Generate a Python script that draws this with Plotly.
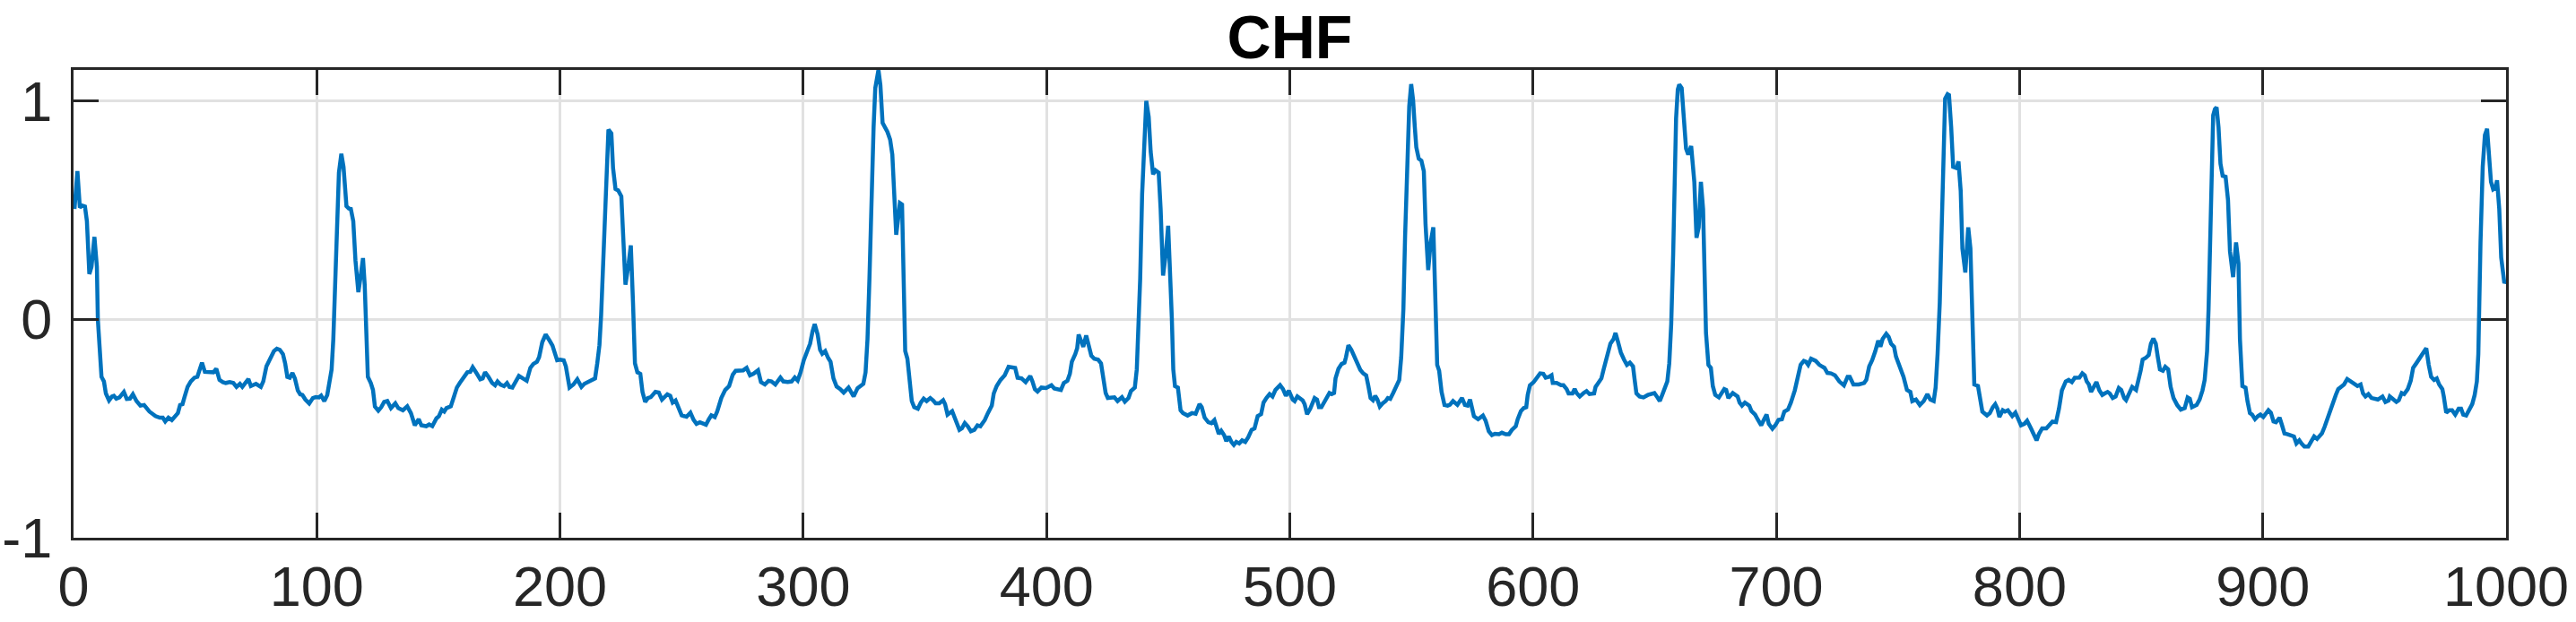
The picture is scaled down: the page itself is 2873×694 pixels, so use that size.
import plotly.graph_objects as go

# ---- data (sample index, amplitude) ----
sample_x = [
    0.4, 1.6, 2.6, 3.5, 4.7, 5.5, 6.5, 7.4, 8.6, 9.6, 10.0, 10.5, 11.5, 12.5, 13.3, 14.6, 15.8, 16.6, 17.6, 18.9,
    20.7, 21.9, 23.2, 24.4, 25.9, 27.5, 29.0, 31.2, 33.7, 35.5, 36.7, 37.7, 39.0, 40.4, 41.9, 42.9, 43.8, 44.8, 45.7, 46.9,
    48.2, 49.7, 50.9, 52.8, 54.0, 55.2, 56.5, 57.5, 58.7, 60.0, 61.4, 62.6, 64.2, 65.7, 67.0, 68.4, 69.4, 71.9, 72.9, 75.0,
    77.0, 78.0, 79.3, 80.5, 82.4, 83.6, 84.8, 86.1, 87.0, 87.9, 88.9, 90.0, 91.0, 92.2, 93.2, 94.1, 95.3, 96.9, 98.4, 99.6,
    100.9, 101.8, 103.1, 104.3, 105.3, 106.1, 106.8, 107.7, 108.6, 109.1, 110.1, 111.0, 112.2, 113.2, 114.0, 115.0, 115.9, 117.1, 117.9, 119.0,
    119.7, 120.6, 121.0, 122.2, 123.1, 123.9, 125.3, 126.5, 127.7, 129.0, 130.5, 132.3, 133.5, 135.4, 137.2, 138.7, 140.3, 141.9, 143.0, 145.0,
    146.2, 147.5, 149.2, 150.2, 151.4, 152.4, 153.3, 155.1, 156.4, 157.6, 158.8, 160.3, 161.9, 163.1, 164.1, 165.6,
    167.2, 168.2, 169.2, 170.6, 172.1, 173.3, 174.3, 175.5, 177.0, 178.2, 179.2, 180.4, 181.6, 183.1, 184.7, 186.3, 187.8, 189.0,
    190.5, 191.4, 192.7, 194.1, 195.7, 196.9, 197.8, 198.8, 200.0, 201.5, 202.4, 203.9, 205.5, 207.1, 208.8, 210.0, 212.0, 213.2,
    214.4, 215.3, 216.2, 216.9, 217.7, 218.6, 219.3, 219.9, 221.1, 221.8, 222.8, 223.9, 225.2, 226.0, 226.9, 228.2, 229.1, 230.0,
    230.8, 231.8, 233.0, 233.9, 235.0, 236.1, 237.3, 239.2, 240.6, 241.9, 244.1, 245.3, 246.3, 247.5, 249.0, 250.0, 252.0, 253.6,
    254.9, 256.1, 257.5, 259.0, 260.0, 261.2, 262.2, 263.6, 264.6, 266.3, 267.9, 269.5, 271.0, 272.2, 273.4, 275.3, 276.7, 278.1,
    279.5, 281.4, 282.6, 284.2, 285.7, 286.9, 288.5, 290.6, 291.8, 293.6, 295.2, 296.5, 297.7, 298.9, 300.2, 301.4, 302.8, 303.8,
    304.7, 305.9, 306.9, 307.8, 309.0, 310.2, 311.2, 312.4, 313.7, 315.2, 316.6, 318.6, 320.7, 322.3, 323.5, 324.7, 325.6, 326.4,
    327.2, 328.0, 328.9, 329.6, 330.9, 331.7, 332.6,
    334.6, 335.7, 336.6, 337.5, 338.2, 339.1, 339.7, 340.6, 341.2, 341.9, 342.8, 343.6, 344.6, 345.6, 347.1, 348.3, 349.5, 350.7,
    352.2, 353.4, 354.4, 355.9, 357.5, 358.3, 359.3, 361.2, 362.6, 364.2, 365.2, 366.4, 367.6, 368.9, 370.3, 371.6, 372.8, 374.6,
    375.9, 377.5, 378.3, 379.5, 381.1, 382.8, 384.4, 385.7, 387.1, 388.1, 389.7, 391.4, 393.3, 394.2, 395.2, 396.3, 397.9, 399.8,
    402.0, 403.2, 404.7, 405.9, 407.1, 408.6, 409.6, 410.4, 411.8, 412.6, 413.2, 414.2, 415.1, 416.3, 417.5, 418.4, 419.6, 421.2,
    422.4, 423.3, 424.3, 425.2, 426.7, 427.9, 429.2, 431.0, 432.2, 433.7, 434.7, 436.3, 437.1, 437.7, 438.5, 439.3, 440.2, 441.0,
    442.0, 442.8, 443.8, 444.8, 446.1, 446.9, 447.9, 449.0, 450.0, 450.7, 451.5, 452.1, 452.8, 454.0, 455.1, 456.1, 458.0, 459.8,
    461.3, 462.9, 463.8, 465.0, 466.5, 467.8, 469.0, 469.9, 470.8, 471.8, 473.0, 473.9, 474.9, 476.0, 477.0, 478.0, 479.2, 480.4,
    481.7, 482.9, 484.3, 485.5, 486.8, 488.2, 489.2, 490.4, 491.7, 492.9, 494.1, 496.0, 497.2, 498.4, 499.6,
    501.2, 502.0, 503.1, 504.1, 505.3, 506.1, 507.1, 508.4, 510.2, 511.2, 512.0, 513.0, 514.5, 515.5, 516.3, 517.2, 518.2, 518.8,
    520.0, 521.3, 522.5, 523.1, 524.1, 525.3, 526.5, 527.8, 529.0, 530.2, 531.4, 532.3, 533.2, 534.2, 535.1, 536.0, 537.0, 538.1,
    539.4, 540.3, 541.3, 542.5, 543.7, 545.0, 545.8, 546.7, 547.4, 548.3, 549.1, 549.9, 550.7, 551.4, 552.0, 553.0, 554.1, 555.1,
    555.8, 556.9, 557.9, 559.0, 559.7, 560.6, 561.4, 562.4, 563.6, 564.9, 565.8, 567.1, 568.9, 570.8, 572.0, 573.1, 574.1, 575.7,
    577.4, 579.4, 580.5, 581.8, 583.1, 584.3, 586.0, 587.2, 588.8, 590.1, 591.3, 592.9, 593.7, 595.0, 596.2, 597.2, 597.8, 598.7,
    600.2, 601.5, 602.9, 604.2, 605.2, 606.6, 607.6, 608.1, 609.7, 611.5, 612.5, 613.8, 614.6, 616.2, 617.1, 617.9, 619.2, 620.8,
    622.0, 623.2, 625.1, 625.7, 626.9, 628.1, 629.0, 630.0, 631.0, 631.8, 633.1, 633.9, 634.9, 636.1, 637.4, 638.6, 639.8, 641.1,
    641.7, 642.5, 643.8, 645.4, 647.2, 648.7, 649.9, 650.9, 652.1, 653.1, 654.3, 655.2, 656.0, 656.8, 657.6, 658.2, 658.8, 659.5,
    660.1, 661.1, 661.9, 662.9, 663.8, 664.4, 665.0,
    666.3, 667.2, 668.1, 669.0, 669.9, 670.5, 671.1, 672.1, 673.1, 673.9, 674.9, 676.4, 677.6, 678.6, 679.4, 680.3, 682.1, 683.1,
    684.1, 684.9, 685.9, 687.1, 688.9, 689.8, 691.3, 692.3, 693.8, 695.0, 696.0, 696.9, 698.4, 699.6, 700.9, 702.3, 703.3, 704.8,
    706.0, 707.6, 708.8, 710.0, 711.3, 712.2, 713.1, 714.3, 716.2, 717.7, 719.8, 721.0, 722.5, 724.1, 725.9, 727.8, 729.3, 730.2,
    731.7, 733.9, 736.1, 737.0, 738.2, 739.4, 740.7, 741.9, 742.8, 743.7, 745.2, 746.2, 747.2, 748.4, 749.2, 750.8, 752.3, 753.7,
    755.1, 755.9, 757.4, 759.0, 760.6, 762.1, 763.3, 764.7, 765.5, 766.3, 767.2, 767.9, 768.8, 769.4, 770.4, 771.0, 771.9, 772.7,
    774.1, 774.9, 775.8, 776.5, 777.7, 778.2, 778.9, 779.8, 780.7, 781.4, 782.9, 783.9, 784.7, 786.6, 787.8, 789.0, 790.0, 790.9,
    791.7, 793.1, 794.0, 795.2, 797.0, 798.3, 799.5, 800.6, 802.0, 803.1, 804.7, 806.0, 807.0, 808.0, 809.3, 811.0, 812.2, 813.5,
    815.0, 816.2, 817.4, 819.0, 820.2, 821.5, 822.7, 824.6, 825.8, 826.8, 827.6, 828.5, 829.4, 830.6, 831.6, 832.8,
    834.0, 835.0, 836.2, 837.1, 838.3, 839.5, 840.8, 841.8, 843.0, 843.8, 845.1, 846.3, 847.9, 848.8, 849.8, 850.6, 851.9, 853.1,
    854.0, 855.0, 856.0, 856.8, 857.7, 858.9, 859.9, 861.1, 862.1, 863.3, 864.8, 866.3, 867.9, 869.1, 870.0, 870.9, 872.8, 874.0,
    875.2, 876.1, 877.1, 877.7, 878.3, 878.9, 879.6, 880.3, 881.0, 881.8, 882.6, 883.5, 884.7, 885.7, 886.5, 887.8, 888.4, 889.0,
    890.0, 890.6, 891.6, 892.9, 893.7, 894.7, 895.6, 896.8, 898.0, 899.0, 900.2, 902.3, 903.3, 904.4, 905.4, 906.9, 907.9, 908.9,
    910.3, 911.6, 912.8, 913.8, 915.0, 915.9, 917.1, 918.7, 920.0, 921.1, 922.3, 923.3, 924.3, 925.4, 926.6, 927.6, 928.8, 930.0,
    931.0, 932.3, 933.4, 934.7, 936.0, 937.4, 938.9, 940.2, 941.2, 942.2, 943.4, 944.7, 946.1, 947.3, 949.2, 950.4, 951.7, 952.2,
    953.4, 954.9, 955.9, 957.1, 958.1, 959.6, 960.8, 961.8, 963.1, 964.5, 965.8, 967.2, 968.2, 969.2, 970.4, 971.5, 972.5, 973.8,
    974.4, 975.4, 976.6, 977.8, 979.1, 980.5, 981.5, 982.4, 983.6, 984.9, 986.1, 987.1, 988.0, 988.6, 988.9, 989.5, 990.4, 991.3,
    992.2, 993.1, 993.8, 994.7, 995.6, 996.3, 997.2, 998.0, 999.3, 1000.0,
]

chf_signal = [
    0.506, 0.679, 0.512, 0.522, 0.517, 0.450, 0.208, 0.242, 0.378, 0.242, 0.000, -0.118, -0.263, -0.284, -0.339, -0.371, -0.353, -0.350, -0.363, -0.357,
    -0.332, -0.364, -0.363, -0.343, -0.374, -0.395, -0.392, -0.422, -0.443, -0.450, -0.450, -0.467, -0.450, -0.461, -0.439, -0.429, -0.392, -0.388, -0.353, -0.309,
    -0.284, -0.267, -0.263, -0.198, -0.240, -0.242, -0.240, -0.242, -0.226, -0.277, -0.287, -0.291, -0.287, -0.291, -0.309, -0.295, -0.309, -0.273, -0.305, -0.295,
    -0.309, -0.284, -0.215, -0.187, -0.145, -0.134, -0.139, -0.159, -0.201, -0.263, -0.267, -0.245, -0.270, -0.325, -0.343, -0.346, -0.367, -0.385, -0.360, -0.356,
    -0.357, -0.349, -0.374, -0.346, -0.284, -0.229, -0.090, 0.187, 0.547, 0.672, 0.759, 0.699, 0.519, 0.508, 0.506, 0.450, 0.270, 0.125, 0.187, 0.281,
    0.159, -0.090, -0.263, -0.291, -0.323, -0.399, -0.418, -0.402, -0.378, -0.374, -0.406, -0.384, -0.406, -0.416, -0.398, -0.429, -0.485, -0.457, -0.485, -0.489,
    -0.481, -0.489, -0.453, -0.443, -0.413, -0.422, -0.406, -0.398, -0.346, -0.312, -0.291, -0.263, -0.242, -0.240, -0.219, -0.245,
    -0.274, -0.270, -0.242, -0.263, -0.291, -0.302, -0.284, -0.298, -0.305, -0.291, -0.309, -0.312, -0.291, -0.259, -0.270, -0.281, -0.222, -0.204,
    -0.194, -0.173, -0.104, -0.069, -0.097, -0.120, -0.152, -0.187, -0.184, -0.187, -0.215, -0.312, -0.298, -0.274, -0.309, -0.295, -0.284, -0.277,
    -0.270, -0.201, -0.118, 0.021, 0.256, 0.561, 0.789, 0.870, 0.852, 0.693, 0.598, 0.591, 0.564, 0.367, 0.159, 0.256, 0.339, 0.076,
    -0.201, -0.242, -0.249, -0.332, -0.378, -0.360, -0.356, -0.332, -0.335, -0.367, -0.343, -0.350, -0.381, -0.371, -0.420, -0.439, -0.446, -0.427,
    -0.460, -0.478, -0.471, -0.475, -0.482, -0.457, -0.439, -0.447, -0.422, -0.360, -0.323, -0.305, -0.253, -0.235, -0.235, -0.233, -0.222, -0.256,
    -0.249, -0.233, -0.287, -0.298, -0.281, -0.284, -0.298, -0.266, -0.284, -0.287, -0.284, -0.266, -0.280, -0.242, -0.187, -0.152, -0.111, -0.055,
    -0.021, -0.069, -0.139, -0.157, -0.145, -0.176, -0.194, -0.270, -0.307, -0.319, -0.335, -0.312, -0.353, -0.315, -0.305, -0.295, -0.242, -0.090,
    0.187, 0.561, 0.880, 1.060, 1.143, 1.073, 0.900,
    0.859, 0.824, 0.755, 0.561, 0.388, 0.471, 0.533, 0.526, 0.187, -0.145, -0.180, -0.270, -0.374, -0.402, -0.409, -0.381, -0.363, -0.374,
    -0.360, -0.371, -0.384, -0.384, -0.370, -0.388, -0.436, -0.420, -0.457, -0.506, -0.499, -0.475, -0.489, -0.512, -0.506, -0.485, -0.489, -0.461,
    -0.429, -0.395, -0.339, -0.305, -0.277, -0.256, -0.217, -0.219, -0.222, -0.267, -0.270, -0.287, -0.259, -0.284, -0.319, -0.330, -0.312, -0.314,
    -0.301, -0.316, -0.319, -0.323, -0.291, -0.281, -0.249, -0.194, -0.159, -0.132, -0.069, -0.097, -0.125, -0.073, -0.125, -0.166, -0.180, -0.184,
    -0.201, -0.270, -0.337, -0.360, -0.360, -0.357, -0.374, -0.356, -0.377, -0.360, -0.328, -0.312, -0.229, -0.090, 0.187, 0.575, 0.852, 1.001,
    0.928, 0.769, 0.665, 0.683, 0.672, 0.506, 0.201, 0.298, 0.429, 0.256, 0.007, -0.229, -0.305, -0.312, -0.416, -0.429, -0.440, -0.429,
    -0.432, -0.388, -0.402, -0.450, -0.471, -0.475, -0.461, -0.492, -0.524, -0.510, -0.530, -0.558, -0.536, -0.561, -0.575, -0.561, -0.568, -0.554,
    -0.561, -0.540, -0.506, -0.499, -0.443, -0.434, -0.381, -0.360, -0.342, -0.353, -0.323, -0.301, -0.319, -0.350, -0.326,
    -0.367, -0.374, -0.353, -0.364, -0.371, -0.388, -0.434, -0.409, -0.360, -0.367, -0.402, -0.402, -0.374, -0.360, -0.337, -0.342, -0.337, -0.270,
    -0.226, -0.204, -0.198, -0.173, -0.118, -0.139, -0.166, -0.198, -0.231, -0.247, -0.256, -0.305, -0.360, -0.370, -0.350, -0.367, -0.399, -0.385,
    -0.374, -0.360, -0.364, -0.337, -0.309, -0.277, -0.173, 0.048, 0.381, 0.741, 0.976, 1.078, 1.004, 0.880, 0.789, 0.737, 0.727, 0.679,
    0.436, 0.226, 0.353, 0.422, 0.187, -0.208, -0.235, -0.332, -0.392, -0.395, -0.391, -0.374, -0.391, -0.360, -0.392, -0.395, -0.367, -0.443,
    -0.457, -0.440, -0.464, -0.512, -0.530, -0.524, -0.526, -0.519, -0.526, -0.526, -0.506, -0.489, -0.457, -0.420, -0.406, -0.402, -0.346, -0.302,
    -0.288, -0.270, -0.247, -0.249, -0.267, -0.263, -0.256, -0.291, -0.291, -0.301, -0.301, -0.319, -0.339, -0.339, -0.319, -0.337, -0.353, -0.337,
    -0.328, -0.342, -0.339, -0.309, -0.287, -0.270, -0.229, -0.190, -0.159, -0.111, -0.090, -0.062, -0.101, -0.152, -0.184, -0.208, -0.198, -0.215,
    -0.270, -0.339, -0.353, -0.357, -0.346, -0.339, -0.337, -0.353, -0.374, -0.346, -0.312, -0.284, -0.201, -0.021, 0.298, 0.602, 0.921, 1.053,
    1.076, 1.060, 0.921, 0.783, 0.755, 0.776, 0.794,
    0.630, 0.374, 0.422, 0.630, 0.506, 0.187, -0.062, -0.208, -0.222, -0.305, -0.346, -0.357, -0.339, -0.319, -0.323, -0.360, -0.337, -0.346,
    -0.353, -0.381, -0.395, -0.381, -0.395, -0.420, -0.436, -0.457, -0.485, -0.457, -0.436, -0.478, -0.501, -0.485, -0.460, -0.457, -0.422, -0.413,
    -0.381, -0.325, -0.267, -0.208, -0.190, -0.194, -0.208, -0.180, -0.190, -0.208, -0.222, -0.245, -0.247, -0.256, -0.284, -0.302, -0.263, -0.263,
    -0.298, -0.298, -0.291, -0.277, -0.215, -0.187, -0.145, -0.097, -0.125, -0.090, -0.066, -0.080, -0.111, -0.125, -0.170, -0.215, -0.263, -0.323,
    -0.332, -0.374, -0.367, -0.392, -0.374, -0.342, -0.367, -0.374, -0.312, -0.159, 0.076, 0.381, 0.741, 1.011, 1.032, 1.028, 0.880, 0.699,
    0.693, 0.724, 0.589, 0.325, 0.215, 0.325, 0.422, 0.325, -0.021, -0.298, -0.305, -0.360, -0.422, -0.440, -0.429, -0.402, -0.388, -0.409,
    -0.447, -0.416, -0.422, -0.416, -0.443, -0.427, -0.464, -0.485, -0.478, -0.464, -0.499, -0.533, -0.554, -0.524, -0.499, -0.499, -0.485, -0.468,
    -0.470, -0.409, -0.325, -0.284, -0.277, -0.287, -0.267, -0.266, -0.247, -0.256, -0.284, -0.298, -0.332, -0.309, -0.287, -0.325,
    -0.346, -0.339, -0.332, -0.339, -0.360, -0.353, -0.314, -0.323, -0.360, -0.370, -0.337, -0.309, -0.323, -0.284, -0.233, -0.184, -0.176, -0.163,
    -0.111, -0.087, -0.111, -0.170, -0.229, -0.235, -0.217, -0.229, -0.309, -0.360, -0.392, -0.413, -0.406, -0.357, -0.363, -0.402, -0.392, -0.367,
    -0.325, -0.277, -0.145, 0.048, 0.353, 0.699, 0.935, 0.963, 0.972, 0.880, 0.713, 0.658, 0.654, 0.547, 0.312, 0.194, 0.270, 0.353,
    0.256, -0.090, -0.305, -0.312, -0.374, -0.429, -0.436, -0.457, -0.443, -0.436, -0.447, -0.416, -0.427, -0.467, -0.471, -0.450, -0.485, -0.522,
    -0.526, -0.533, -0.536, -0.568, -0.554, -0.568, -0.582, -0.582, -0.554, -0.536, -0.547, -0.533, -0.522, -0.492, -0.453, -0.416, -0.374, -0.346,
    -0.319, -0.305, -0.298, -0.273, -0.284, -0.298, -0.305, -0.298, -0.339, -0.353, -0.342, -0.360, -0.364, -0.367, -0.353, -0.378, -0.371, -0.353,
    -0.364, -0.378, -0.370, -0.337, -0.342, -0.319, -0.281, -0.222, -0.201, -0.177, -0.152, -0.132, -0.208, -0.263, -0.277, -0.270, -0.298, -0.319,
    -0.353, -0.427, -0.416, -0.416, -0.436, -0.409, -0.409, -0.436, -0.440, -0.416, -0.388, -0.346, -0.284, -0.159, 0.048, 0.353, 0.699, 0.845,
    0.873, 0.741, 0.630, 0.596, 0.602, 0.637, 0.506, 0.284, 0.166, 0.180,
]

x_tick_values = [0, 100, 200, 300, 400, 500, 600, 700, 800, 900, 1000]
x_tick_labels = ["0", "100", "200", "300", "400", "500", "600", "700", "800", "900", "1000"]
y_tick_values = [-1, 0, 1]
y_tick_labels = ["-1", "0", "1"]
chart_title = "CHF"

LINE_BLUE = "#0072BD"
AXIS_DARK = "#262626"
GRID_GRAY = "#e1e1e1"
FONT = "Liberation Sans, Arial, Helvetica, sans-serif"

fig = go.Figure()
fig.add_trace(go.Scatter(
    x=sample_x, y=chf_signal, mode="lines",
    line=dict(color=LINE_BLUE, width=4.5),
    hoverinfo="skip", showlegend=False,
))

axis_common = dict(
    showline=True, linecolor=AXIS_DARK, linewidth=3, mirror="ticks",
    ticks="inside", ticklen=28, tickwidth=3, tickcolor=AXIS_DARK,
    showgrid=True, gridcolor=GRID_GRAY, gridwidth=3,
    zeroline=False, automargin=False,
    tickfont=dict(family=FONT, size=63, color=AXIS_DARK),
)

fig.update_xaxes(range=[0, 1000], tickmode="array", tickvals=x_tick_values,
                 ticktext=x_tick_labels, ticklabelstandoff=-3, **axis_common)
fig.update_yaxes(range=[-1, max(chf_signal)], tickmode="array", tickvals=y_tick_values,
                 ticktext=y_tick_labels, ticklabelstandoff=8, **axis_common)

fig.update_layout(
    width=2873, height=694,
    margin=dict(l=82, r=78, t=78, b=94, pad=0),
    paper_bgcolor="white", plot_bgcolor="white",
    title=dict(text="<b>" + chart_title + "</b>", x=0.5, xref="paper",
               y=1 - 41 / 694, yref="container", yanchor="middle", xanchor="center",
               font=dict(family=FONT, size=68, color="black")),
)

fig.write_html("out.html", config={"displayModeBar": False},
               post_script="document.body.style.margin='0';document.body.style.padding='0';")
